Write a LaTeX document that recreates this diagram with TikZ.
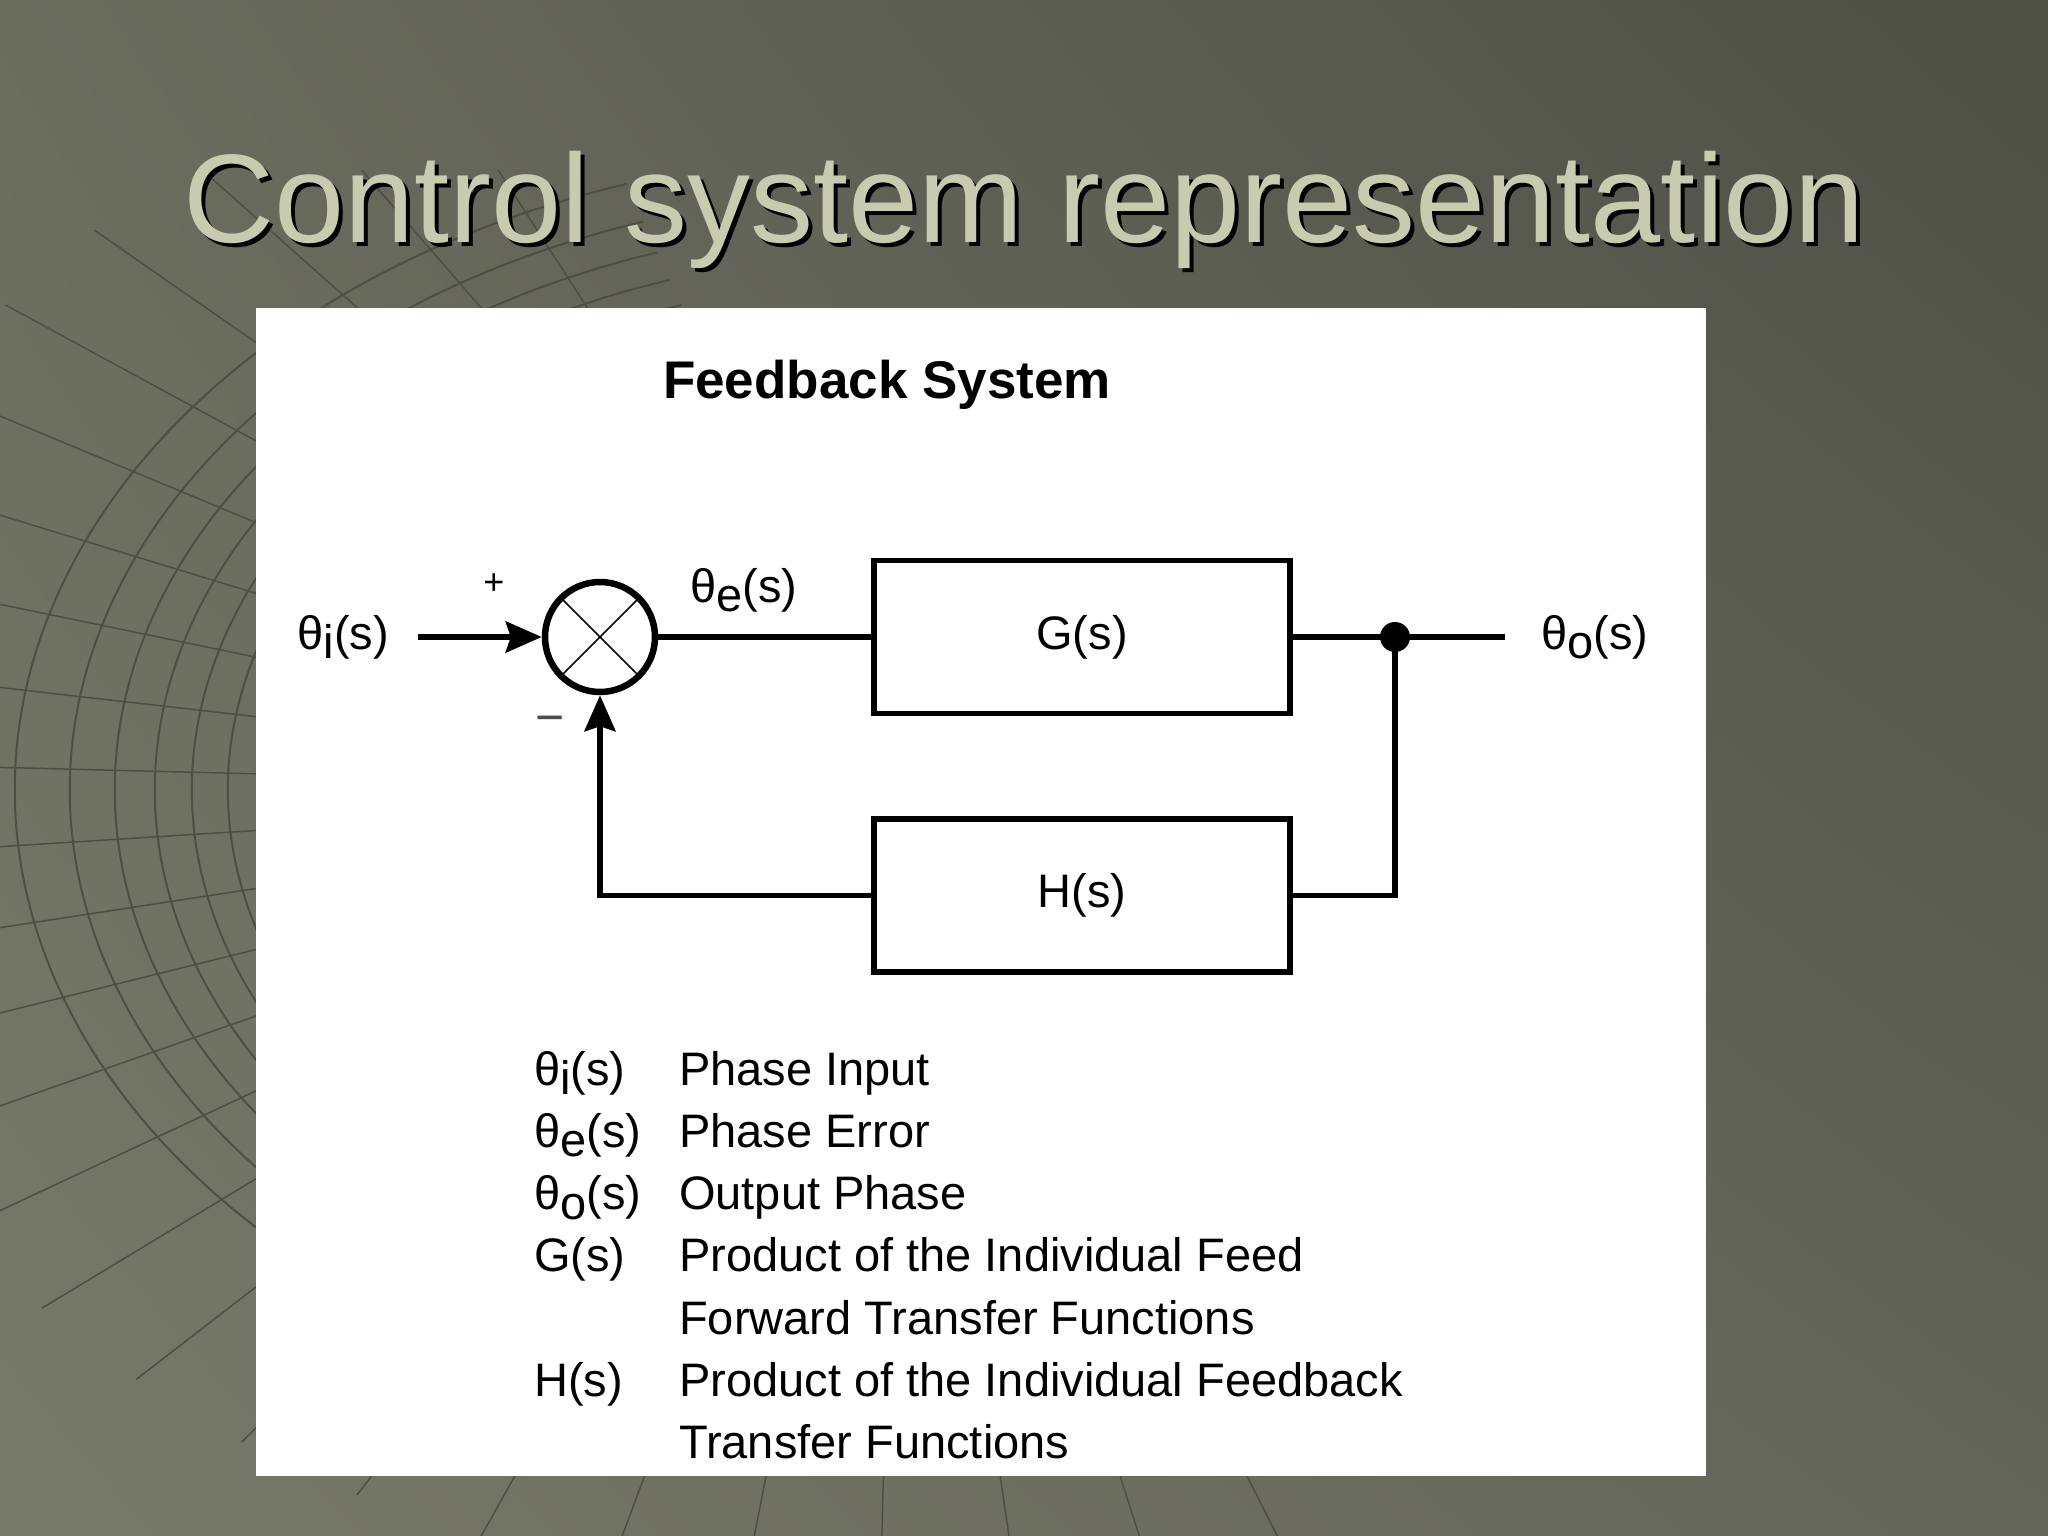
\documentclass[tikz,border=0pt]{standalone}
\usepackage{fontspec}
\setmainfont{Liberation Sans}
\usetikzlibrary{arrows.meta,positioning,calc,shadings}

\definecolor{bgul}{HTML}{6A6C5E}
\definecolor{bgur}{HTML}{4E4F45}
\definecolor{bgll}{HTML}{777969}
\definecolor{bglr}{HTML}{64655A}
\definecolor{meshgray}{HTML}{4D4F44}
\definecolor{titlegray}{HTML}{C8CBB0}

\newcommand\sigfont{\fontsize{47}{62.3}\selectfont}
\newcommand\phasesig[1]{θ\raisebox{-0.2em}{#1}(s)}

\tikzset {
    block/.style={draw, line width=5.5pt, minimum width=416pt,
        minimum height=153pt, inner sep=0pt, font=\sigfont},
    sumpoint/.style={circle, draw, line width=6.5pt, minimum size=110pt,
        inner sep=0pt},
    branch/.style={circle, fill=black, minimum size=30pt, inner sep=0pt},
    sigtext/.style={font=\sigfont, inner sep=0pt},
    signal/.style={draw, line width=5.5pt},
    feed/.style={signal, -{Stealth[length=36pt,width=31pt,inset=5pt]}},
    meshline/.style={draw=meshgray, line width=2pt},
    titletext/.style={font=\fontsize{126}{150}\selectfont, inner sep=0pt,
        anchor=base},
    node distance=100pt
}

\begin{document}
\begin{tikzpicture}[x=1pt, y=-1pt]

    \useasboundingbox (0,0) rectangle (2048,1536);
    \shade[upper left=bgul, upper right=bgur, lower left=bgll,
        lower right=bglr] (0,0) rectangle (2048,1536);

    % wire mesh in the background
    \begin{scope}
        \clip (0,170) -- (740,170) -- (740,1420) -- (1520,1420) -- (1520,1536)
            -- (0,1536) -- cycle;
        \coordinate (F) at (900,790);
        \foreach \r [evaluate=\r as \ry using 0.72*\r] in {885,830,785,745,708,672,638,605,575}
            \draw[meshline] (F) ++(112:{\r} and {\ry}) arc[start angle=112, end angle=252,
                x radius=\r, y radius=\ry];
        \foreach \a in {70,77,...,250}
            \draw[meshline, line width=1.5pt] ($(F)+(\a:480 and 345)$) -- ($(F)+(\a:1120 and 806)$);
    \end{scope}

    \fill[white] (256,308) rectangle (1706,1476);

    \node[titletext, text=black] (titleshadow) at (1028,246) {Control system representation};
    \node[titletext, text=titlegray] (title) at (1024,242) {Control system representation};

    \node[anchor=base, font=\bfseries\fontsize{53}{60}\selectfont] (heading) at (887,398)
        {Feedback System};

    \node[sumpoint] (sum) at (600,637) {};
    \draw[line width=1.5pt] (sum.45) -- (sum.225) (sum.135) -- (sum.315);

    \node[block] (G) at (1082,637) {G(s)};
    \node[block, below=of G] (H) {H(s)};
    \node[branch] (split) at (1395,637) {};

    \coordinate (inputstart) at (418,637);
    \coordinate (outputend) at (1505,637);

    \node[sigtext, left=29pt of inputstart] (thetai) {\phasesig{i}};
    \node[sigtext, right=36pt of outputend] (thetao) {\phasesig{o}};
    \node[sigtext] (thetae) at (744,590) {\phasesig{e}};
    \node[font=\fontsize{36}{40}\selectfont, inner sep=0pt] (plus) at (494,584) {+};
    \node[font=\fontsize{50}{50}\selectfont, inner sep=0pt, text=black!70] (minus) at (550,725) {−};

    \draw[feed] (inputstart) -- (sum);
    \draw[signal] (sum) -- (G);
    \draw[signal] (G.east) -- (outputend);
    \draw[signal] (split.center) |- (H.east);
    \draw[feed] (H.west) -| (sum.south);

    \node[anchor=base west, font=\sigfont, inner sep=0pt] (legend) at (534,1085) {%
        \begin{tabular}[t]{@{}p{145pt}@{}l@{}}
            \phasesig{i} & Phase Input\\
            \phasesig{e} & Phase Error\\
            \phasesig{o} & Output Phase\\
            G(s) & Product of the Individual Feed\\
                 & Forward Transfer Functions\\
            H(s) & Product of the Individual Feedback\\
                 & Transfer Functions
        \end{tabular}};

\end{tikzpicture}
\end{document}
